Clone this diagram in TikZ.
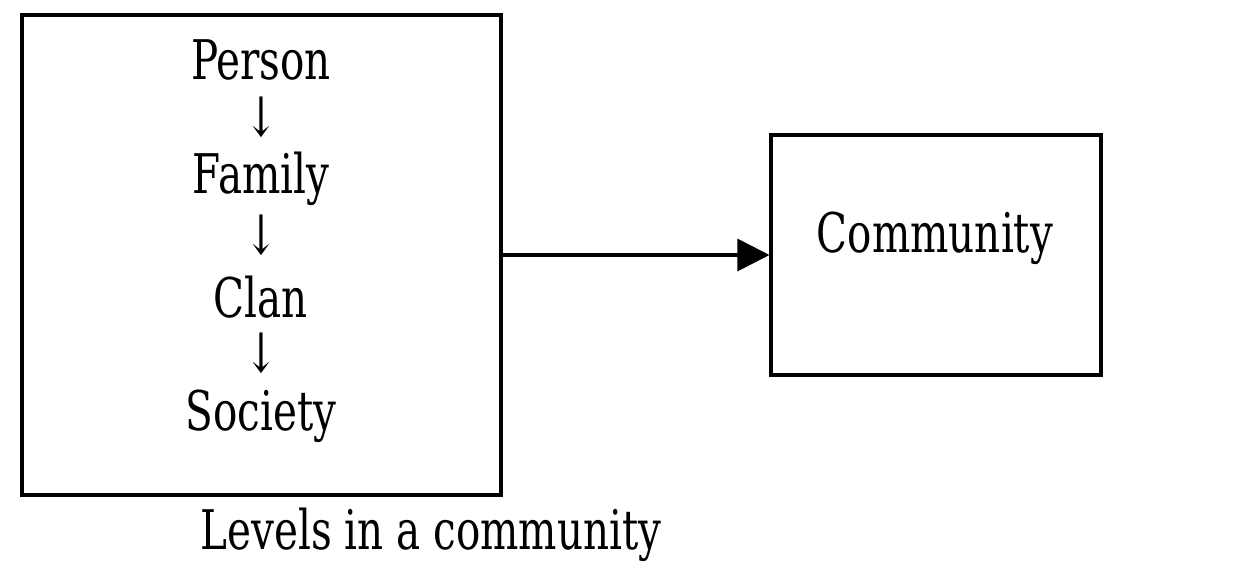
\documentclass[tikz,border=0pt]{standalone}
\usepackage{fontspec}
\setmainfont{DejaVu Serif}[FakeStretch=0.74]
\usepackage{tikz}
\usetikzlibrary{positioning,arrows.meta}

\begin{document}
\begin{tikzpicture}[
  x=0.75pt, y=-0.75pt,
  box/.style={draw=black, line width=2.3pt},
  word/.style={font=\fontsize{41}{47}\selectfont, inner sep=0pt},
  down/.style={font=\fontsize{41}{47}\selectfont, inner sep=0pt},
  line/.style={-{Triangle[length=24pt, width=24pt]}, black, line width=2.3pt},
]
\useasboundingbox (0,0) rectangle (1246,562);

% ---------- left box: levels ----------
\node[box, minimum width=479*0.75pt, minimum height=480*0.75pt] (levels) at (261.5,255) {};
\node[word] (person) at (261,60) {Person};
\node[down] (d1) at (261,117) {↓};
\node[word] (family) at (261,179) {Family};
\node[down] (d2) at (261,235) {↓};
\node[word] (clan) at (261,297) {Clan};
\node[down] (d3) at (261,353) {↓};
\node[word] (society) at (261,416) {Society};

% ---------- right box ----------
\node[box, minimum width=330*0.75pt, minimum height=240*0.75pt] (comm) at (936,255) {};
\node[word] (commtxt) at (935,238) {Community};

% arrow between boxes
\draw[line] (levels.east) -- (comm.west);

% caption
\node[word] (capt) at (431,535) {Levels in a community};

\end{tikzpicture}
\end{document}
